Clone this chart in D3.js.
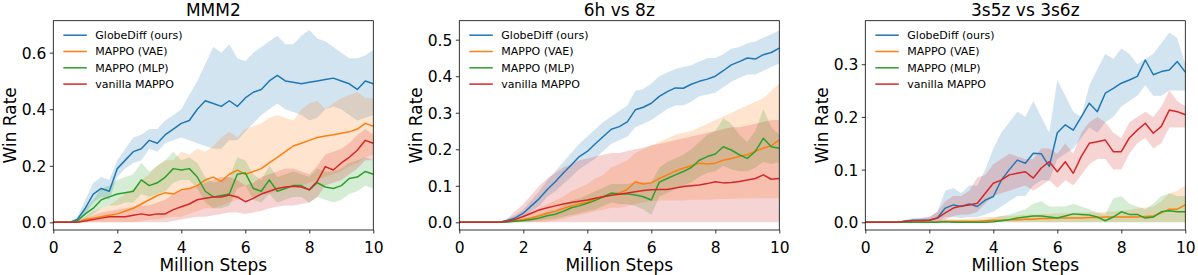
<!DOCTYPE html>
<html>
<head>
<meta charset="utf-8">
<script src="https://cdn.jsdelivr.net/npm/d3@7"></script>
<style>
  body { margin: 0; background: #fff; }
  svg { display: block; font-family: "DejaVu Sans", sans-serif; }
</style>
</head>
<body>
<svg id="chart" width="1198" height="275"></svg>
<script>
// x grid shared by every curve (million steps)
const steps = [0, 0.25, 0.5, 0.75, 1, 1.25, 1.5, 1.75, 2, 2.25, 2.5, 2.75, 3, 3.25, 3.5, 3.75,
  4, 4.25, 4.5, 4.75, 5, 5.25, 5.5, 5.75, 6, 6.25, 6.5, 6.75, 7, 7.25, 7.5, 7.75,
  8, 8.25, 8.5, 8.75, 9, 9.25, 9.5, 9.75, 10];

const methods = ['GlobeDiff (ours)', 'MAPPO (VAE)', 'MAPPO (MLP)', 'vanilla MAPPO'];
const colors = ['#1f77b4', '#ff7f0e', '#2ca02c', '#d62728'];
const xTicks = [0, 2, 4, 6, 8, 10];

// ---- MMM2 ----
const mmm2Globe = [0,0,0,0.01,0.05,0.1,0.12,0.11,0.19,0.22,0.25,0.26,0.29,0.28,0.31,0.33,0.35,0.36,0.40,0.43,0.42,0.41,0.43,0.41,0.44,0.46,0.47,0.50,0.52,0.50,0.495,0.49,0.495,0.50,0.505,0.51,0.50,0.49,0.47,0.50,0.49];
const mmm2GlobeHi = [0,0,0,0.02,0.08,0.14,0.16,0.15,0.22,0.26,0.30,0.31,0.33,0.33,0.36,0.38,0.40,0.45,0.50,0.56,0.62,0.60,0.63,0.58,0.57,0.60,0.62,0.64,0.66,0.63,0.63,0.66,0.68,0.65,0.64,0.62,0.60,0.58,0.58,0.59,0.61];
const mmm2GlobeLo = [0,0,0,0,0.03,0.07,0.09,0.08,0.16,0.19,0.21,0.22,0.26,0.25,0.28,0.29,0.30,0.29,0.28,0.27,0.26,0.26,0.29,0.29,0.32,0.35,0.38,0.40,0.42,0.40,0.39,0.38,0.36,0.37,0.40,0.41,0.40,0.38,0.36,0.37,0.38];
const mmm2Vae = [0,0,0,0,0.01,0.015,0.02,0.025,0.03,0.04,0.05,0.065,0.08,0.095,0.105,0.10,0.115,0.12,0.13,0.15,0.16,0.145,0.17,0.185,0.17,0.18,0.19,0.21,0.23,0.25,0.27,0.28,0.29,0.30,0.305,0.31,0.315,0.32,0.33,0.35,0.34];
const mmm2VaeHi = [0,0,0,0.005,0.02,0.04,0.05,0.06,0.08,0.10,0.12,0.15,0.17,0.20,0.22,0.22,0.25,0.24,0.26,0.25,0.27,0.30,0.32,0.30,0.33,0.34,0.35,0.37,0.38,0.37,0.36,0.40,0.42,0.43,0.40,0.42,0.44,0.45,0.46,0.44,0.44];
const mmm2VaeLo = [0,0,0,0,0,0,0,0,0,0,0,0.005,0.01,0.01,0.015,0.02,0.02,0.03,0.04,0.05,0.05,0.06,0.07,0.08,0.08,0.09,0.10,0.10,0.11,0.12,0.13,0.13,0.14,0.15,0.16,0.17,0.18,0.20,0.21,0.23,0.24];
const mmm2Mlp = [0,0,0,0.005,0.03,0.05,0.08,0.09,0.10,0.105,0.11,0.15,0.13,0.14,0.16,0.19,0.185,0.19,0.16,0.11,0.09,0.095,0.10,0.17,0.175,0.12,0.11,0.15,0.11,0.12,0.13,0.13,0.115,0.14,0.125,0.12,0.13,0.155,0.16,0.18,0.17];
const mmm2MlpHi = [0,0,0,0.01,0.05,0.08,0.12,0.13,0.15,0.16,0.17,0.21,0.18,0.20,0.22,0.25,0.22,0.23,0.21,0.16,0.14,0.15,0.16,0.23,0.22,0.17,0.15,0.20,0.16,0.17,0.18,0.17,0.16,0.19,0.18,0.18,0.19,0.21,0.22,0.23,0.22];
const mmm2MlpLo = [0,0,0,0,0.01,0.03,0.05,0.06,0.06,0.07,0.07,0.10,0.09,0.10,0.11,0.14,0.15,0.15,0.12,0.07,0.05,0.05,0.06,0.12,0.13,0.08,0.07,0.10,0.07,0.08,0.09,0.09,0.07,0.09,0.08,0.07,0.08,0.10,0.11,0.13,0.12];
const mmm2Van = [0,0,0,0,0.005,0.01,0.015,0.02,0.02,0.02,0.025,0.03,0.025,0.03,0.03,0.045,0.055,0.065,0.08,0.085,0.09,0.09,0.097,0.09,0.073,0.085,0.10,0.11,0.12,0.125,0.128,0.125,0.115,0.145,0.197,0.185,0.21,0.23,0.255,0.29,0.28];
const mmm2VanHi = [0,0,0,0.005,0.015,0.025,0.035,0.04,0.045,0.05,0.055,0.06,0.06,0.07,0.08,0.10,0.11,0.12,0.13,0.14,0.15,0.16,0.16,0.15,0.13,0.14,0.16,0.17,0.18,0.19,0.19,0.18,0.17,0.20,0.24,0.25,0.26,0.28,0.31,0.33,0.31];
const mmm2VanLo = [0,0,0,0,0,0,0,0,0,0,0,0,0,0,0,0.005,0.01,0.015,0.02,0.02,0.025,0.03,0.035,0.035,0.03,0.035,0.04,0.05,0.055,0.06,0.06,0.065,0.07,0.09,0.13,0.14,0.15,0.17,0.19,0.22,0.22];

// ---- 6h vs 8z ----
const h6Globe = [0,0,0,0,0,0,0.005,0.012,0.025,0.045,0.065,0.09,0.111,0.135,0.157,0.18,0.194,0.215,0.235,0.255,0.262,0.275,0.308,0.315,0.326,0.345,0.358,0.368,0.367,0.378,0.386,0.392,0.40,0.415,0.431,0.44,0.45,0.447,0.459,0.465,0.477];
const h6GlobeHi = [0,0,0,0,0,0,0.01,0.02,0.035,0.06,0.085,0.115,0.14,0.165,0.19,0.215,0.235,0.255,0.275,0.29,0.305,0.32,0.36,0.365,0.38,0.40,0.41,0.42,0.425,0.43,0.44,0.45,0.45,0.46,0.475,0.48,0.49,0.495,0.505,0.515,0.525];
const h6GlobeLo = [0,0,0,0,0,0,0,0.005,0.015,0.03,0.045,0.07,0.085,0.105,0.125,0.145,0.16,0.175,0.195,0.215,0.225,0.235,0.26,0.27,0.28,0.295,0.31,0.32,0.32,0.33,0.345,0.35,0.355,0.37,0.385,0.395,0.405,0.405,0.415,0.425,0.435];
const h6Vae = [0,0,0,0,0,0,0.002,0.005,0.008,0.012,0.018,0.025,0.03,0.038,0.045,0.05,0.055,0.065,0.07,0.078,0.08,0.09,0.111,0.105,0.108,0.12,0.13,0.14,0.148,0.155,0.162,0.16,0.162,0.17,0.175,0.18,0.185,0.195,0.203,0.21,0.226];
const h6VaeHi = [0,0,0,0,0,0,0.005,0.01,0.02,0.03,0.04,0.05,0.06,0.07,0.085,0.095,0.105,0.12,0.13,0.15,0.16,0.17,0.19,0.20,0.21,0.22,0.23,0.24,0.245,0.25,0.26,0.27,0.28,0.29,0.30,0.31,0.32,0.33,0.34,0.36,0.38];
const h6VaeLo = [0,0,0,0,0,0,0,0,0,0,0,0.002,0.005,0.01,0.015,0.02,0.025,0.03,0.035,0.04,0.04,0.045,0.05,0.055,0.058,0.06,0.06,0.06,0.06,0.062,0.062,0.062,0.063,0.064,0.064,0.065,0.065,0.066,0.066,0.066,0.066];
const h6Mlp = [0,0,0,0,0,0,0.001,0.003,0.005,0.008,0.012,0.018,0.022,0.03,0.04,0.045,0.052,0.06,0.07,0.08,0.077,0.078,0.075,0.07,0.061,0.11,0.12,0.13,0.139,0.15,0.17,0.18,0.187,0.207,0.198,0.185,0.175,0.194,0.23,0.207,0.203];
const h6MlpHi = [0,0,0,0,0,0,0.003,0.006,0.01,0.015,0.02,0.03,0.035,0.045,0.06,0.065,0.075,0.085,0.095,0.105,0.105,0.105,0.11,0.11,0.11,0.15,0.165,0.175,0.185,0.20,0.22,0.24,0.25,0.285,0.27,0.24,0.22,0.25,0.31,0.26,0.24];
const h6MlpLo = [0,0,0,0,0,0,0,0,0,0.002,0.005,0.008,0.01,0.015,0.02,0.025,0.03,0.035,0.045,0.055,0.05,0.05,0.045,0.035,0.02,0.07,0.08,0.09,0.10,0.11,0.125,0.135,0.14,0.155,0.145,0.14,0.14,0.15,0.165,0.16,0.165];
const h6Van = [0,0,0,0,0,0,0.003,0.008,0.016,0.025,0.034,0.04,0.045,0.05,0.054,0.058,0.061,0.066,0.07,0.074,0.077,0.08,0.084,0.087,0.089,0.09,0.09,0.094,0.098,0.10,0.102,0.106,0.111,0.108,0.109,0.112,0.116,0.12,0.13,0.118,0.12];
const h6VanHi = [0,0,0,0,0,0,0.01,0.03,0.05,0.075,0.10,0.12,0.135,0.15,0.16,0.17,0.175,0.18,0.185,0.19,0.19,0.195,0.20,0.205,0.21,0.215,0.22,0.225,0.23,0.235,0.24,0.245,0.25,0.255,0.26,0.26,0.265,0.27,0.275,0.28,0.28];
const h6VanLo = [0,0,0,0,0,0,0,0,0,0,0,0,0,0,0,0,0,0,0,0,0,0,0,0,0,0,0,0,0,0,0,0,0,0,0,0,0,0,0,0,0];

// ---- 3s5z vs 3s6z ----
const s3Globe = [0,0,0,0,0,0.002,0.004,0.004,0.004,0.008,0.027,0.033,0.03,0.035,0.03,0.042,0.049,0.08,0.10,0.118,0.112,0.131,0.13,0.106,0.17,0.185,0.175,0.20,0.226,0.21,0.245,0.254,0.264,0.27,0.277,0.308,0.28,0.286,0.289,0.305,0.285];
const s3GlobeHi = [0,0,0,0,0,0.005,0.008,0.008,0.01,0.02,0.06,0.065,0.055,0.07,0.07,0.10,0.14,0.17,0.19,0.21,0.20,0.23,0.20,0.17,0.27,0.24,0.21,0.20,0.26,0.29,0.32,0.31,0.33,0.32,0.30,0.31,0.32,0.34,0.36,0.35,0.30];
const s3GlobeLo = [0,0,0,0,0,0,0,0,0,0,0.01,0.01,0.008,0.01,0.01,0.015,0.02,0.03,0.04,0.05,0.05,0.07,0.08,0.08,0.12,0.13,0.14,0.16,0.18,0.17,0.19,0.20,0.22,0.23,0.24,0.26,0.24,0.24,0.25,0.25,0.25];
const s3Vae = [0,0,0,0,0,0,0,0,0,0.001,0.002,0.002,0.002,0.002,0.002,0.003,0.004,0.004,0.005,0.005,0.006,0.006,0.007,0.007,0.008,0.008,0.008,0.008,0.009,0.009,0.01,0.01,0.01,0.01,0.01,0.011,0.012,0.018,0.025,0.025,0.033];
const s3VaeHi = [0,0,0,0,0,0,0,0,0.002,0.004,0.006,0.006,0.006,0.007,0.008,0.01,0.01,0.012,0.012,0.013,0.014,0.015,0.016,0.016,0.017,0.017,0.018,0.018,0.019,0.019,0.02,0.02,0.022,0.024,0.026,0.028,0.03,0.04,0.055,0.06,0.07];
const s3VaeLo = [0,0,0,0,0,0,0,0,0,0,0,0,0,0,0,0,0,0,0,0,0,0,0,0,0,0,0,0,0,0,0,0,0,0,0,0,0,0,0,0,0];
const s3Mlp = [0,0,0,0,0,0,0,0,0,0,0.001,0,0,0,0,0,0.001,0.003,0.005,0.008,0.01,0.012,0.012,0.01,0.008,0.012,0.016,0.015,0.014,0.01,0.003,0.01,0.02,0.015,0.015,0.008,0.01,0.02,0.022,0.02,0.02];
const s3MlpHi = [0,0,0,0,0,0,0,0,0,0,0.003,0.003,0.002,0.002,0.003,0.005,0.008,0.012,0.015,0.02,0.025,0.035,0.04,0.03,0.03,0.03,0.035,0.03,0.025,0.018,0.015,0.045,0.05,0.035,0.03,0.025,0.035,0.05,0.055,0.05,0.05];
const s3MlpLo = [0,0,0,0,0,0,0,0,0,0,0,0,0,0,0,0,0,0,0,0,0,0,0,0,0,0,0,0,0,0,0,0,0,0,0,0,0,0,0,0,0];
const s3Van = [0,0,0,0,0,0.002,0.003,0.003,0.004,0.008,0.018,0.027,0.031,0.033,0.036,0.055,0.074,0.08,0.09,0.093,0.096,0.084,0.103,0.115,0.096,0.115,0.093,0.125,0.15,0.153,0.156,0.134,0.134,0.16,0.175,0.188,0.169,0.182,0.213,0.21,0.204];
const s3VanHi = [0,0,0,0,0,0.004,0.006,0.008,0.01,0.02,0.04,0.05,0.05,0.06,0.085,0.09,0.11,0.12,0.13,0.125,0.12,0.12,0.14,0.14,0.13,0.15,0.13,0.17,0.19,0.20,0.19,0.17,0.16,0.19,0.20,0.21,0.20,0.22,0.25,0.23,0.22];
const s3VanLo = [0,0,0,0,0,0,0,0,0,0,0.005,0.012,0.015,0.015,0.02,0.035,0.05,0.055,0.06,0.065,0.07,0.06,0.07,0.08,0.065,0.08,0.07,0.09,0.11,0.12,0.12,0.10,0.10,0.13,0.15,0.16,0.14,0.15,0.18,0.18,0.18];

const panels = [
  { title: 'MMM2', left: 53.3, yDomain: [-0.027, 0.713], yTicks: [0, 0.2, 0.4, 0.6],
    mean: [mmm2Globe, mmm2Vae, mmm2Mlp, mmm2Van],
    hi: [mmm2GlobeHi, mmm2VaeHi, mmm2MlpHi, mmm2VanHi],
    lo: [mmm2GlobeLo, mmm2VaeLo, mmm2MlpLo, mmm2VanLo] },
  { title: '6h vs 8z', left: 459.3, yDomain: [-0.021, 0.552], yTicks: [0, 0.1, 0.2, 0.3, 0.4, 0.5],
    mean: [h6Globe, h6Vae, h6Mlp, h6Van],
    hi: [h6GlobeHi, h6VaeHi, h6MlpHi, h6VanHi],
    lo: [h6GlobeLo, h6VaeLo, h6MlpLo, h6VanLo] },
  { title: '3s5z vs 3s6z', left: 865.3, yDomain: [-0.0146, 0.3826], yTicks: [0, 0.1, 0.2, 0.3],
    mean: [s3Globe, s3Vae, s3Mlp, s3Van],
    hi: [s3GlobeHi, s3VaeHi, s3MlpHi, s3VanHi],
    lo: [s3GlobeLo, s3VaeLo, s3MlpLo, s3VanLo] }
];

const plotW = 320, plotTop = 20.7, plotBottom = 230;
const svg = d3.select('#chart');

panels.forEach((p, pi) => {
  const g = svg.append('g').attr('transform', `translate(${p.left},0)`);

  const x = d3.scaleLinear().domain([0, 10]).range([0, plotW]);
  const y = d3.scaleLinear().domain(p.yDomain).range([plotBottom, plotTop]);

  const clipId = 'clip' + pi;
  g.append('clipPath').attr('id', clipId)
    .append('rect').attr('x', 0).attr('y', plotTop).attr('width', plotW).attr('height', plotBottom - plotTop);

  const plot = g.append('g').attr('clip-path', `url(#${clipId})`);

  // shaded bands first
  p.mean.forEach((m, si) => {
    const area = d3.area()
      .x((d, i) => x(steps[i]))
      .y0((d, i) => y(p.lo[si][i]))
      .y1((d, i) => y(p.hi[si][i]));
    plot.append('path')
      .datum(m)
      .attr('d', area)
      .attr('fill', colors[si])
      .attr('fill-opacity', 0.2)
      .attr('stroke', 'none');
  });

  // mean curves
  p.mean.forEach((m, si) => {
    const line = d3.line()
      .x((d, i) => x(steps[i]))
      .y(d => y(d));
    plot.append('path')
      .datum(m)
      .attr('d', line)
      .attr('fill', 'none')
      .attr('stroke', colors[si])
      .attr('stroke-width', 1.5)
      .attr('stroke-linejoin', 'round');
  });

  // axes
  const xAxis = g.append('g')
    .attr('transform', `translate(0,${plotBottom})`)
    .call(d3.axisBottom(x).tickValues(xTicks).tickSize(3.5).tickPadding(3.5).tickFormat(d3.format('d')));
  const yAxis = g.append('g')
    .call(d3.axisLeft(y).tickValues(p.yTicks).tickSize(3.5).tickPadding(3.5).tickFormat(d3.format('.1f')));

  [xAxis, yAxis].forEach(a => {
    a.select('.domain').remove();
    a.selectAll('.tick line').attr('stroke', '#000').attr('stroke-width', 0.8);
    a.selectAll('.tick text').attr('fill', '#000').style('font-size', '15.5px')
      .style('font-family', '"DejaVu Sans", sans-serif');
  });
  xAxis.selectAll('.tick text').attr('dy', null).attr('y', 0).attr('transform', 'translate(0,23)');
  yAxis.selectAll('.tick text').attr('dy', '0.36em');

  // frame
  g.append('rect')
    .attr('x', 0).attr('y', plotTop)
    .attr('width', plotW).attr('height', plotBottom - plotTop)
    .attr('fill', 'none').attr('stroke', '#000').attr('stroke-width', 0.8);

  // title and labels
  g.append('text')
    .attr('x', plotW / 2).attr('y', 16)
    .attr('text-anchor', 'middle')
    .style('font-size', '17px')
    .text(p.title);

  g.append('text')
    .attr('x', plotW / 2).attr('y', 271)
    .attr('text-anchor', 'middle')
    .style('font-size', '17px')
    .text('Million Steps');

  g.append('text')
    .attr('transform', `translate(-37,${(plotTop + plotBottom) / 2}) rotate(-90)`)
    .attr('text-anchor', 'middle')
    .style('font-size', '17px')
    .text('Win Rate');

  // legend
  const legend = g.append('g').attr('transform', `translate(10,${plotTop + 14.5})`);
  methods.forEach((name, si) => {
    const row = legend.append('g').attr('transform', `translate(0,${si * 16.3})`);
    row.append('line')
      .attr('x1', 0).attr('x2', 23.5)
      .attr('stroke', colors[si]).attr('stroke-width', 1.5);
    row.append('text')
      .attr('x', 32).attr('dy', '0.36em')
      .style('font-size', '11px')
      .text(name);
  });
});
</script>
</body>
</html>
